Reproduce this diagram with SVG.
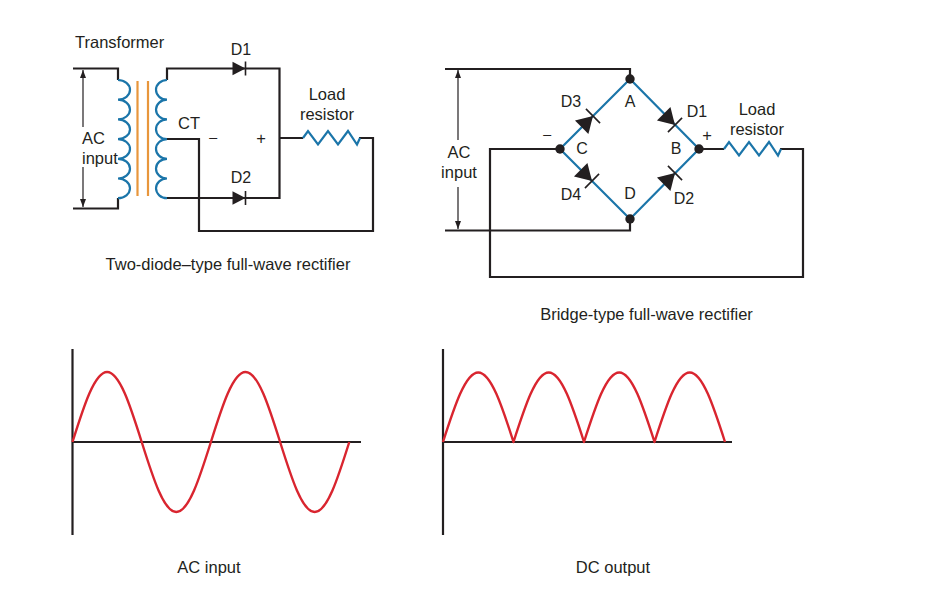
<svg xmlns="http://www.w3.org/2000/svg" xmlns:xlink="http://www.w3.org/1999/xlink" width="946" height="598" viewBox="0 0 946 598">
<style>
text{font-family:"Liberation Sans",Arial,sans-serif;font-size:16.5px;fill:#231f20}
.m{text-anchor:middle}
.d{font-size:16px}
.w{fill:none;stroke:#231f20;stroke-width:2.2;stroke-linejoin:miter}
.b{fill:none;stroke:#1b75a9;stroke-width:2.2}
.o{fill:none;stroke:#e8963c;stroke-width:2.2}
.r{fill:none;stroke:#d9252f;stroke-width:2.4;stroke-linejoin:round}
.a{fill:none;stroke:#231f20;stroke-width:1.2}
.ax{fill:none;stroke:#231f20;stroke-width:2.2}
.n{fill:#231f20}
</style>
<defs>
<marker id="ah" viewBox="0 0 8 6" refX="8" refY="3" markerWidth="8" markerHeight="6" markerUnits="userSpaceOnUse" orient="auto-start-reverse"><path d="M0,0L8,3L0,6z" fill="#231f20"/></marker>
<g id="diode"><polygon points="-13,-6.800 0,0 -13,6.800" fill="#231f20"/><path d="M0,-7V7" stroke="#231f20" stroke-width="1.6"/></g>
<g id="bdiode"><polygon points="-16,-9.500 0,0 -16,9.500" fill="#231f20"/><path d="M0,-10V10" stroke="#231f20" stroke-width="1.6"/></g>
</defs>
<g id="connectors">
<path class="w" d="M73,68.500H118V80M73,208.500H118V198"/>
<path class="w" d="M167,80V68.500H279.500V198H167M167,139H199V231H373V138H359M279.500,138H303"/>
<path class="w" d="M445,69H630V79M445,230.500H630V219"/>
<path class="w" d="M560,149H490V277H803V149H780M699,149H724"/>
<path class="a" marker-start="url(#ah)" d="M83,70V127"/>
<path class="a" marker-end="url(#ah)" d="M83,167V207"/>
<path class="a" marker-start="url(#ah)" d="M458,70V140"/>
<path class="a" marker-end="url(#ah)" d="M458,187V229"/>
<path class="b" d="M630,79L699,149L630,219L560,149Z"/>
</g>
<g id="transformer">
<path class="b" d="M118,80a12,9.850 0 0 1 0,19.700a12,9.850 0 0 1 0,19.700a12,9.850 0 0 1 0,19.700a12,9.850 0 0 1 0,19.700a12,9.850 0 0 1 0,19.700a12,9.850 0 0 1 0,19.700"/>
<path class="o" d="M137.500,81V196M148,81V196"/>
<path class="b" d="M167,80a11,9.850 0 0 0 0,19.700a11,9.850 0 0 0 0,19.700a11,9.850 0 0 0 0,19.700a11,9.850 0 0 0 0,19.700a11,9.850 0 0 0 0,19.700a11,9.850 0 0 0 0,19.700"/>
<text x="75" y="48">Transformer</text>
<text x="82" y="143.500">AC</text>
<text x="82" y="163.500">input</text>
<text x="178" y="129">CT</text>
</g>
<g id="d1-left"><use xlink:href="#diode" href="#diode" transform="translate(245.500,68.500)"/><text class="m d" x="241" y="55">D1</text></g>
<g id="d2-left"><use xlink:href="#diode" href="#diode" transform="translate(245.500,198)"/><text class="m d" x="241" y="182.500">D2</text></g>
<g id="load-left">
<path class="b" d="M303,138L308,131L318,144.500L328,131L338,144.500L348,131L357,144.500L360,138"/>
<text class="m" x="327" y="100">Load</text><text class="m" x="327" y="120">resistor</text>
<text class="m" x="213" y="144">−</text><text class="m" x="261" y="144">+</text>
</g>
<g id="bridge">
<circle class="n" cx="630" cy="79" r="4.700"/><circle class="n" cx="699" cy="149" r="4.700"/><circle class="n" cx="560" cy="149" r="4.700"/><circle class="n" cx="630" cy="219" r="4.700"/>
<text class="m d" x="630" y="106.500">A</text><text class="m d" x="676" y="153.500">B</text><text class="m d" x="582" y="153.500">C</text><text class="m d" x="630" y="198.500">D</text>
<text class="m" x="547" y="141">−</text><text class="m" x="707" y="141">+</text>
</g>
<g id="d1-bridge"><use xlink:href="#bdiode" href="#bdiode" transform="translate(675,125) rotate(45)"/><text class="m d" x="697" y="116.500">D1</text></g>
<g id="d2-bridge"><use xlink:href="#bdiode" href="#bdiode" transform="translate(675,173) rotate(-45)"/><text class="m d" x="684" y="203.500">D2</text></g>
<g id="d3-bridge"><use xlink:href="#bdiode" href="#bdiode" transform="translate(593,116) rotate(-45)"/><text class="m d" x="571" y="106.500">D3</text></g>
<g id="d4-bridge"><use xlink:href="#bdiode" href="#bdiode" transform="translate(592,181) rotate(45)"/><text class="m d" x="571" y="199.500">D4</text></g>
<g id="load-right">
<path class="b" d="M724,149L729,142L739,155.500L749,142L759,155.500L769,142L778,155.500L781,149"/>
<text class="m" x="757" y="115">Load</text><text class="m" x="757" y="134.500">resistor</text>
<text class="m" x="459" y="158">AC</text><text class="m" x="459" y="178">input</text>
</g>
<g id="captions">
<text class="m" x="228" y="270">Two-diode–type full-wave rectifier</text>
<text class="m" x="646.500" y="320">Bridge-type full-wave rectifier</text>
<text class="m" x="209" y="573">AC input</text>
<text class="m" x="613" y="573">DC output</text>
</g>
<g id="ac-graph">
<path class="ax" d="M72.500,349V535M72.500,442H361"/>
<path class="r" d="M72.500,442c11.300,-35.900 22.100,-70 34.600,-70c12.500,0 23.300,34.100 34.600,70c11.300,35.900 22.100,70 34.600,70c12.500,0 23.300,-34.100 34.600,-70c11.300,-35.900 22.100,-70 34.600,-70c12.500,0 23.300,34.100 34.600,70c11.300,35.900 22.100,70 34.600,70c12.500,0 23.300,-34.100 34.600,-70"/>
</g>
<g id="dc-graph">
<path class="ax" d="M443,349V535M443,442H732"/>
<path class="r" d="M443,442c11.500,-35.700 22.500,-69.500 35.250,-69.500c12.750,0 23.750,33.800 35.250,69.500c11.500,-35.700 22.500,-69.500 35.250,-69.500c12.750,0 23.750,33.800 35.250,69.500c11.500,-35.700 22.500,-69.500 35.250,-69.500c12.750,0 23.750,33.800 35.250,69.500c11.500,-35.700 22.500,-69.500 35.250,-69.500c12.750,0 23.750,33.800 35.250,69.500"/>
</g>
</svg>
